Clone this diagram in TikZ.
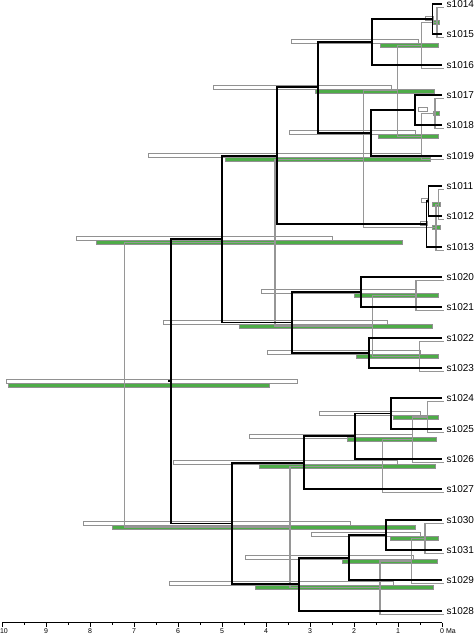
\documentclass[tikz,border=0pt]{standalone}
\usepackage{fontspec}
\setmainfont{Liberation Sans}
\definecolor{hpdgreen}{RGB}{78,172,72}
\definecolor{treegrey}{RGB}{150,150,150}
\definecolor{bargrey}{RGB}{145,145,145}
\tikzset{
  btree/.style={line width=1.8pt, black},
  gtree/.style={line width=1.2pt, treegrey},
  wbar/.style={draw=bargrey, fill=white, line width=0.6pt},
  gbar/.style={draw=bargrey, fill=hpdgreen, line width=0.6pt},
  tiplab/.style={anchor=west, inner sep=0pt, font=\fontsize{10}{12}\selectfont},
  axlab/.style={inner sep=0pt, font=\fontsize{7}{8}\selectfont},
  axisline/.style={line width=1pt, black},
}
\newcommand\hpdbar[4]{\draw[#1] (#2,#4-2) rectangle (#3,#4+2);}
\begin{document}
\begin{tikzpicture}[x=1pt,y=-1pt]
\useasboundingbox (0,0) rectangle (474,636);

% tips: black end (t), grey end (u), label
\foreach \i/\y/\n in {0/4/s1014,1/34.3/s1015,2/64.7/s1016,3/95/s1017,4/125.3/s1018,
  5/155.7/s1019,6/186/s1011,7/216.3/s1012,8/246.7/s1013,9/277/s1020,10/307.3/s1021,
  11/337.7/s1022,12/368/s1023,13/398.3/s1024,14/428.7/s1025,15/459/s1026,
  16/489.3/s1027,17/519.7/s1030,18/550/s1031,19/580.3/s1029,20/610.7/s1028}{
  \coordinate (t\i) at (442,\y);
  \coordinate (u\i) at (443.5,\y+3.5);
  \node[tiplab] (\n) at (446.5,\y) {\n};
}

% black tree nodes
\foreach \n/\x/\y in {1/432.5/19.2,2/371.7/41.9,3/415/110.2,4/371/132.9,5/318/87.4,
  6/428.5/201.2,7/426.5/223.9,8/277.3/155.7,10/360.7/292.2,11/369/352.8,
  12/291.7/322.5,9/221.7/239.1,17/390.7/413.5,16/355/436.3,15/304/462.8,
  20/385.7/534.8,19/349.3/557.6,18/299/584.1,14/231.7/523.5,13/171/381.3}{
  \coordinate (b\n) at (\x,\y);
}
% grey tree nodes
\foreach \n/\x/\y in {1/437/22.7,2/421.7/45.4,3/435/113.7,4/421.7/136.4,5/397.3/90.9,
  6/438.3/204.7,7/436/227.4,8/363.3/159.2,10/416/295.7,11/419.3/356.3,
  12/372.7/326,9/275/242.6,17/427.3/417,16/412.7/439.7,15/382.7/466.3,
  20/425/538.3,19/411.7/561,18/380/587.6,14/290/527,13/124.7/384.8}{
  \coordinate (g\n) at (\x,\y);
}

% HPD bars: white (black-tree dating), green (grey-tree dating)
\hpdbar{wbar}{425}{433}{18.7}
\hpdbar{wbar}{291}{418}{41.4}
\hpdbar{wbar}{418}{427}{109.7}
\hpdbar{wbar}{289}{415}{132.4}
\hpdbar{wbar}{213}{391}{86.9}
\hpdbar{wbar}{421.7}{427}{200.7}
\hpdbar{wbar}{420}{427}{223.4}
\hpdbar{wbar}{148}{421}{155.2}
\hpdbar{wbar}{76}{332}{238.6}
\hpdbar{wbar}{261.7}{416}{291.7}
\hpdbar{wbar}{267}{420}{352.3}
\hpdbar{wbar}{163.3}{387.7}{322}
\hpdbar{wbar}{6}{297}{380.8}
\hpdbar{wbar}{319.3}{420.7}{413}
\hpdbar{wbar}{249.3}{412.7}{435.8}
\hpdbar{wbar}{173.3}{397.7}{462.3}
\hpdbar{wbar}{83}{350.7}{523}
\hpdbar{wbar}{311.7}{420.7}{534.3}
\hpdbar{wbar}{245}{413.3}{557.1}
\hpdbar{wbar}{169}{393.3}{583.6}

\hpdbar{gbar}{433}{439}{22.7}
\hpdbar{gbar}{380}{438.3}{45.4}
\hpdbar{gbar}{433}{439}{113.7}
\hpdbar{gbar}{378.3}{438.3}{136.4}
\hpdbar{gbar}{315}{434}{90.9}
\hpdbar{gbar}{432.7}{440.7}{204.7}
\hpdbar{gbar}{432.7}{440.7}{227.4}
\hpdbar{gbar}{225}{430}{159.2}
\hpdbar{gbar}{96}{402.3}{242.6}
\hpdbar{gbar}{354}{438}{295.7}
\hpdbar{gbar}{356.7}{438.3}{356.3}
\hpdbar{gbar}{239.3}{432.3}{326}
\hpdbar{gbar}{8}{269.3}{384.8}
\hpdbar{gbar}{393.3}{438.3}{417}
\hpdbar{gbar}{347.3}{436.7}{439.7}
\hpdbar{gbar}{259.3}{435}{466.3}
\hpdbar{gbar}{112}{415}{527}
\hpdbar{gbar}{390.7}{438.3}{538.3}
\hpdbar{gbar}{342.3}{437.3}{561}
\hpdbar{gbar}{255}{433.3}{587.6}

% grey tree
\foreach \p/\c in {g1/u0,g1/u1,g2/g1,g2/u2,g3/u3,g3/u4,g4/g3,g4/u5,g5/g2,g5/g4,
  g6/u6,g6/u7,g7/g6,g7/u8,g8/g5,g8/g7,g10/u9,g10/u10,g11/u11,g11/u12,g12/g10,g12/g11,
  g9/g8,g9/g12,g13/g9,g17/u13,g17/u14,g16/g17,g16/u15,g15/g16,g15/u16,
  g20/u17,g20/u18,g19/g20,g19/u19,g18/g19,g18/u20,g14/g15,g14/g18,g13/g14}{
  \draw[gtree] (\p) |- (\c);
}

% black tree
\foreach \p/\c in {b1/t0,b1/t1,b2/b1,b2/t2,b3/t3,b3/t4,b4/b3,b4/t5,b5/b2,b5/b4,
  b6/t6,b6/t7,b7/b6,b7/t8,b8/b5,b8/b7,b10/t9,b10/t10,b11/t11,b11/t12,b12/b10,b12/b11,
  b9/b8,b9/b12,b13/b9,b17/t13,b17/t14,b16/b17,b16/t15,b15/b16,b15/t16,
  b20/t17,b20/t18,b19/b20,b19/t19,b18/b19,b18/t20,b14/b15,b14/b18,b13/b14}{
  \draw[btree] (\p) |- (\c);
}
\coordinate (rootstub) at (167.5,381.3);
\draw[btree] (b13) -- (rootstub);

% time axis
\coordinate (axL) at (2,622.7);
\coordinate (axR) at (442,622.7);
\draw[axisline] (axL) -- (axR);
\foreach \t in {0,...,10}{\draw[axisline, line width=0.8pt] (442-44*\t,622.7) -- ++(0,4.5);}
\foreach \t in {0.5,1.5,...,9.5}{\draw[axisline, line width=0.8pt] (442-44*\t,622.7) -- ++(0,2.5);}
\foreach \t in {1,...,9}{\node[axlab] (ax\t) at (442-44*\t,631.5) {\t};}
\node[axlab] (ax10) at (4,631.5) {10};
\node[axlab, anchor=west] (ax0) at (440,631.5) {0 Ma};
\end{tikzpicture}
\end{document}
